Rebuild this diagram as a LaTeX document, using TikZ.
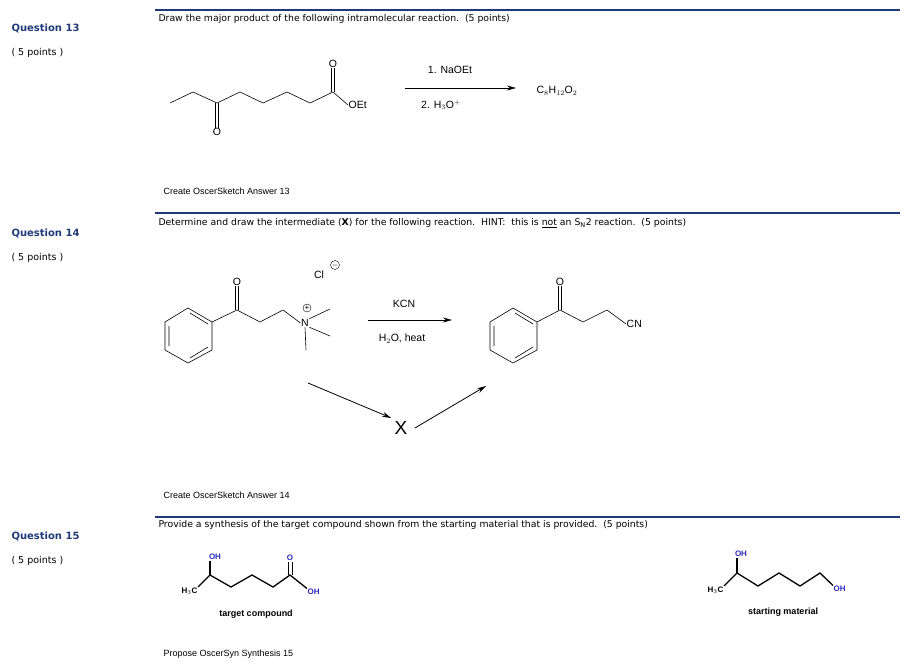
\documentclass[tikz,border=0pt]{standalone}
\usepackage{fontspec}
\setmainfont{DejaVu Sans}
\newfontfamily\arial{Liberation Sans}
\usetikzlibrary{arrows.meta}
\definecolor{qblue}{HTML}{1F3A78}
\definecolor{oblue}{HTML}{2A2ABF}
\tikzset{
 qlab/.style={anchor=west,text=qblue,font=\fontsize{10}{12}\selectfont\bfseries},
 qpts/.style={anchor=west,font=\fontsize{9.5}{11}\selectfont},
 hdr/.style={anchor=west,font=\fontsize{9.3}{11}\selectfont},
 small/.style={anchor=west,font=\arial\fontsize{9}{11}\selectfont},
 atom/.style={font=\arial\fontsize{10.5}{12}\selectfont,inner sep=0.5pt},
 batom/.style={font=\arial\fontsize{8}{10}\selectfont\bfseries,inner sep=0.5pt},
 bd/.style={line width=0.6pt},
 bbd/.style={line width=1.3pt},
 rarr/.style={line width=0.8pt,-{Stealth[length=9pt,width=5pt]}},
 rule/.style={line width=1.2pt,qblue}
}
\begin{document}
\begin{tikzpicture}[x=1pt,y=-1pt]
\useasboundingbox (0,0) rectangle (904,664);
% --- Q13
\node[qlab] (q13) at (8,28) {Question 13};
\node[qpts] (p13) at (8,53) {( 5 points )};
\coordinate (r1a) at (155,10); \coordinate (r1b) at (900,10);
\draw[rule] (r1a) -- (r1b);
\node[hdr] (h13) at (155,19) {Draw the major product of the following intramolecular reaction.\ \ (5 points)};
\coordinate (a1) at (170,103); \coordinate (a2) at (193,92); \coordinate (a3) at (217,103);
\coordinate (a4) at (240,92); \coordinate (a5) at (263,103); \coordinate (a6) at (287,92);
\coordinate (a7) at (310,103); \coordinate (a8) at (333,92);
\node[atom] (ok) at (217,132) {O};
\node[atom] (oc) at (333,64) {O};
\node[atom,anchor=west] (oet) at (348,105) {OEt};
\draw[bd] (a1)--(a2)--(a3)--(a4)--(a5)--(a6)--(a7)--(a8)--(oet.west);
\draw[bd] ([xshift=-1.5pt]a3) -- ([xshift=-1.5pt]ok.north);
\draw[bd] ([xshift=1.5pt]a3) -- ([xshift=1.5pt]ok.north);
\draw[bd] ([xshift=-1.5pt]a8) -- ([xshift=-1.5pt]oc.south);
\draw[bd] ([xshift=1.5pt]a8) -- ([xshift=1.5pt]oc.south);
\coordinate (ar1) at (405,88); \coordinate (ar2) at (516,88);
\draw[rarr] (ar1) -- (ar2);
\node[atom] (c1) at (450,70) {1. NaOEt};
\node[atom] (c2) at (441,105) {2. H$_3$O$^+$};
\node[atom] (prod13) at (557,91) {C$_8$H$_{12}$O$_2$};
\node[small] (cr13) at (160,191) {Create OscerSketch Answer 13};
% --- Q14
\node[qlab] (q14) at (8,233) {Question 14};
\node[qpts] (p14) at (8,258) {( 5 points )};
\coordinate (r2a) at (155,213); \coordinate (r2b) at (900,213);
\draw[rule] (r2a) -- (r2b);
\node[hdr] (h14) at (155,223) {Determine and draw the intermediate (\textbf{X}) for the following reaction.\ \ HINT:\ \ this is \underline{not} an S$_{\mathrm N}$2 reaction.\ \ (5 points)};
% reactant
\coordinate (b1) at (237,310); \coordinate (b2) at (560,310);
\draw[bd] (165,322)--(188,308)--(212,322)--(212,350)--(188,363)--(165,350)--cycle;
\draw[bd] (169,326)--(169,346) (190,313)--(208,324) (190,358)--(208,347);
\node[atom] (o14) at (237,282) {O};
\node[atom] (n14) at (305,323) {N};
\draw[bd] (212,322)--(b1)--(260,322)--(283,310)--(n14.west);
\draw[bd] ([xshift=-1.5pt]b1)--([xshift=-1.5pt]o14.south);
\draw[bd] ([xshift=1.5pt]b1)--([xshift=1.5pt]o14.south);
\draw[bd] (n14.north east)--(330,309);
\draw[bd] (n14.south east)--(330,336);
\draw[bd] (n14.south)--(306,350);
\node[draw,circle,inner sep=0pt,minimum size=8pt,font=\arial\fontsize{8}{8}\selectfont] (plus) at (307,308) {+};
\node[atom] (cl) at (319,275) {Cl};
\node[draw,circle,inner sep=0pt,minimum size=9pt,font=\arial\fontsize{8}{8}\selectfont] (minus) at (335,265) {$-$};
\coordinate (k1) at (368,320); \coordinate (k2) at (452,320);
\draw[rarr] (k1) -- (k2);
\node[atom] (kcn) at (404,304) {KCN};
\node[atom] (h2o) at (402,339) {H$_2$O, heat};
% product
\draw[bd] (490,322)--(513,308)--(537,322)--(537,350)--(513,363)--(490,350)--cycle;
\draw[bd] (494,326)--(494,346) (515,313)--(533,324) (515,358)--(533,347);
\node[atom] (o14b) at (560,282) {O};
\node[atom,anchor=west] (cn) at (626,324) {CN};
\draw[bd] (537,322)--(b2)--(583,322)--(607,310)--(cn.west);
\draw[bd] ([xshift=-1.5pt]b2)--([xshift=-1.5pt]o14b.south);
\draw[bd] ([xshift=1.5pt]b2)--([xshift=1.5pt]o14b.south);
\node[font=\arial\fontsize{19}{20}\selectfont] (x) at (401,428) {X};
\coordinate (d1) at (308,383);
\coordinate (u2) at (486,386);
\draw[rarr] (d1) -- (x.north west);
\draw[rarr] ([xshift=4pt]x.east) -- (u2);
\node[small] (cr14) at (160,495) {Create OscerSketch Answer 14};
% --- Q15
\node[qlab] (q15) at (8,536) {Question 15};
\node[qpts] (p15) at (8,561) {( 5 points )};
\coordinate (r3a) at (155,517); \coordinate (r3b) at (900,517);
\draw[rule] (r3a) -- (r3b);
\node[hdr] (h15) at (155,525) {Provide a synthesis of the target compound shown from the starting material that is provided.\ \ (5 points)};
% target
\coordinate (t1) at (210,575); \coordinate (t5) at (290,575);
\node[batom,text=oblue] (oh1) at (215,557) {OH};
\node[batom,anchor=east] (h3c1) at (198,591) {H$_3$C};
\node[batom,text=oblue] (o2) at (290,558) {O};
\node[batom,text=oblue,anchor=west] (oh2) at (307,592) {OH};
\draw[bbd] (h3c1.north east)--(t1)--(231,587)--(252,575)--(273,587)--(t5)--(oh2.north west);
\draw[bbd] (t1)--(oh1.south -| t1);
\draw[line width=1pt] ([xshift=-2pt]t5)--([xshift=-2pt]o2.south);
\draw[line width=1pt] ([xshift=2pt]t5)--([xshift=2pt]o2.south);
\node[font=\arial\fontsize{9}{11}\selectfont\bfseries] (tc) at (256,614) {target compound};
% starting
\coordinate (s1) at (737,573);
\node[batom,text=oblue] (oh3) at (741,554) {OH};
\node[batom,anchor=east] (h3c2) at (724,590) {H$_3$C};
\node[batom,text=oblue,anchor=west] (oh4) at (833,589) {OH};
\draw[bbd] (h3c2.north east)--(s1)--(758,586)--(779,573)--(800,586)--(820,573)--(oh4.north west);
\draw[bbd] (s1)--(oh3.south -| s1);
\node[font=\arial\fontsize{9}{11}\selectfont\bfseries] (sm) at (783,612) {starting material};
\node[small] (cr15) at (160,654) {Propose OscerSyn Synthesis 15};
\end{tikzpicture}
\end{document}
